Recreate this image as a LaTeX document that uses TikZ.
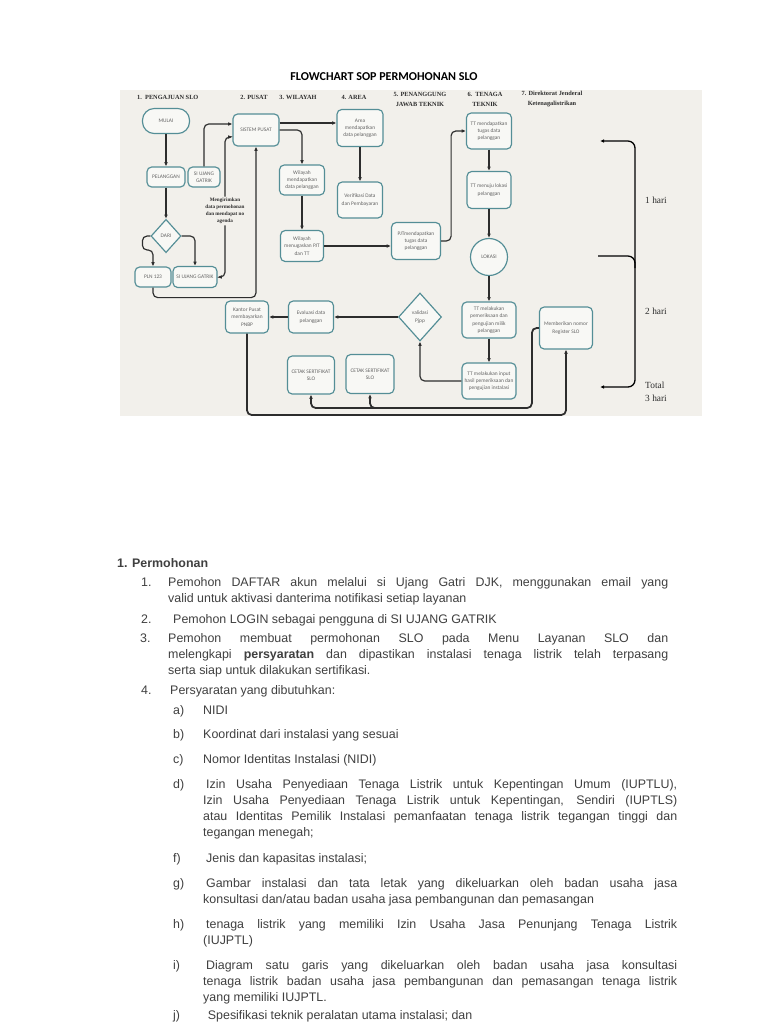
\documentclass[tikz,border=0pt]{standalone}
\usepackage{fontspec}
\setmainfont{Liberation Sans}
\newfontfamily\calfont{Carlito}
\newfontfamily\timesfont{Liberation Serif}
\usetikzlibrary{arrows.meta,shapes.geometric,calc}
\definecolor{paper}{RGB}{242,240,235}
\definecolor{boxteal}{RGB}{84,142,150}
\definecolor{ink}{RGB}{45,45,45}
\definecolor{boxtext}{RGB}{100,100,100}
\definecolor{bodytext}{RGB}{64,64,64}

\begin{document}
\begin{tikzpicture}[x=0.03cm,y=-0.03cm,
    >={Latex[length=3.6pt,width=3.2pt]},
    flowbox/.style={draw=boxteal,line width=1pt,fill=paper!50!white,rounded corners=4pt,
      font=\calfont\fontsize{4.6}{6.2}\selectfont,text=boxtext,align=center,inner sep=1pt},
    diam/.style={flowbox,diamond,rounded corners=0pt,inner sep=0pt},
    arr/.style={draw=ink,line width=1pt,->,rounded corners=4pt},
    arrthick/.style={arr,line width=1.5pt},
    colhead/.style={font=\timesfont\bfseries\fontsize{5.4}{8.5}\selectfont,text=ink,align=center,inner sep=0pt},
    dayl/.style={font=\timesfont\fontsize{8}{11}\selectfont,text=ink,align=left,inner sep=0pt,anchor=west},
    numl/.style={font=\fontsize{10.6}{13.9}\selectfont,text=bodytext,anchor=base west,inner sep=0pt},
    iteml/.style={numl,align=justify},
  ]
  \useasboundingbox (0,0) rectangle (768,1024);
  \fill[white] (0,0) rectangle (768,1024);
  \fill[paper] (120,90) rectangle (702,416);

  \node[font=\calfont\bfseries\fontsize{10.3}{12}\selectfont,text=black] (title) at (384,77) {FLOWCHART SOP PERMOHONAN SLO};

  \node[colhead,anchor=west] (h1) at (137,97) {1.\enspace PENGAJUAN SLO};
  \node[colhead] (h2) at (254,97) {2. PUSAT};
  \node[colhead] (h3) at (298,97) {3. WILAYAH};
  \node[colhead] (h4) at (354,97) {4. AREA};
  \node[colhead] (h5) at (420,99) {5. PENANGGUNG\\JAWAB TEKNIK};
  \node[colhead] (h6) at (485,99) {6.\enspace TENAGA\\TEKNIK};
  \node[colhead] (h7) at (552,99) {7. Direktorat Jenderal\\Ketenagalistrikan};

  \node[flowbox,rounded corners=10pt,minimum width=1.41cm,minimum height=0.75cm] (mulai) at (166,121) {MULAI};
  \node[flowbox,minimum width=1.14cm,minimum height=0.6cm] (plg) at (166,177) {PELANGGAN};
  \node[flowbox,minimum width=0.96cm,minimum height=0.6cm] (sig1) at (204,177) {SI UJANG\\GATRIK};
  \node[diam,minimum width=0.9cm,minimum height=1.0cm] (dari) at (166,236) {DARI};
  \node[flowbox,minimum width=1.08cm,minimum height=0.6cm] (pln) at (153,277) {PLN 123};
  \node[flowbox,minimum width=1.32cm,minimum height=0.63cm] (sig2) at (195,277) {SI UJANG GATRIK};
  \node[font=\timesfont\bfseries\fontsize{4.4}{6}\selectfont,text=ink,align=center,inner sep=1pt] (ann) at (225,211)
    {Mengirimkan\\data permohonan\\dan mendapat no\\agenda};

  \node[flowbox,minimum width=1.38cm,minimum height=0.96cm] (sp) at (256,130) {SISTEM PUSAT};
  \node[flowbox,minimum width=1.38cm,minimum height=1.11cm] (area) at (360,128) {Area\\mendapatkan\\data pelanggan};
  \node[flowbox,minimum width=1.35cm,minimum height=0.9cm] (wil1) at (302,180) {Wilayah\\mendapatkan\\data pelanggan};
  \node[flowbox,minimum width=1.35cm,minimum height=1.08cm] (verif) at (360,200) {Verifikasi Data\\dan Pembayaran};
  \node[flowbox,minimum width=1.29cm,minimum height=0.93cm] (wil2) at (302,246) {Wilayah\\menugaskan PJT\\dan TT};
  \node[flowbox,minimum width=1.47cm,minimum height=1.11cm] (pjt) at (416,241) {PJTmendapatkan\\tugas data\\pelanggan};
  \node[flowbox,minimum width=1.35cm,minimum height=1.08cm] (tt1) at (489,131) {TT mendapatkan\\tugas data\\pelanggan};
  \node[flowbox,minimum width=1.32cm,minimum height=1.11cm] (tt2) at (489,190) {TT menuju lokasi\\pelanggan};
  \node[flowbox,circle,minimum size=1.11cm] (lok) at (489,257) {LOKASI};
  \node[flowbox,minimum width=1.62cm,minimum height=1.08cm] (tt3) at (489,320) {TT melakukan\\pemeriksaan dan\\pengujian milik\\pelanggan};
  \node[flowbox,minimum width=1.62cm,minimum height=1.08cm] (tt4) at (489,381) {TT melakukan input\\hasil pemeriksaan dan\\pengujian instalasi};
  \node[flowbox,minimum width=1.59cm,minimum height=1.26cm] (reg) at (566,328) {Memberikan nomor\\Register SLO};
  \node[diam,minimum width=1.29cm,minimum height=1.44cm] (val) at (420,317) {validasi\\Pjpp};
  \node[flowbox,minimum width=1.35cm,minimum height=0.96cm] (eval) at (311,317) {Evaluasi data\\pelanggan};
  \node[flowbox,minimum width=1.29cm,minimum height=0.96cm] (kp) at (247,317) {Kantor Pusat\\membayarkan\\PNBP};
  \node[flowbox,minimum width=1.41cm,minimum height=1.14cm] (ctk1) at (311,375) {CETAK SERTIFIKAT\\SLO};
  \node[flowbox,minimum width=1.44cm,minimum height=1.17cm] (ctk2) at (370,374) {CETAK SERTIFIKAT\\SLO};

  \coordinate (spW1) at ([yshift=0.18cm]sp.west);
  \coordinate (spW2) at ([yshift=-0.21cm]sp.west);
  \coordinate (spE1) at ([yshift=0.21cm]sp.east);
  \coordinate (bot) at (0,415);
  \coordinate (mid) at (0,408);

  \draw[arr] (mulai) -- (plg);
  \draw[arr] (plg) -- (dari);
  \draw[arr] (dari.west) -| ++(-8,14) -| (pln.north);
  \draw[arr] (dari.east) -| (sig2.north);
  \draw[arr] (sig1.north) |- (spW1);
  \draw[arr] (ann.north) |- (spW2);
  \draw[arr] (ann.south) |- (sig2.east);
  \draw[arr] (pln.south) -- ++(0,10) -| (sp.south);
  \draw[arr] (spE1) -- (spE1 -| area.west);
  \draw[arr] (sp.east) -| (wil1.north);
  \draw[arr] (wil1) -- (wil2);
  \draw[arr] (area) -- (verif);
  \draw[arr] (wil2.east) -- (wil2.east -| pjt.west);
  \draw[arr] (pjt.east) -- ++(10,0) |- (tt1.west);
  \draw[arr] (tt1) -- (tt2);
  \draw[arr] (tt2) -- (lok);
  \draw[arr] (lok) -- (tt3);
  \draw[arr] (tt3) -- (tt4);
  \draw[arr] (tt4.west) -| (val.south);
  \draw[arr] (val) -- (eval);
  \draw[arr] (eval) -- (kp);
  \draw[arrthick] (kp.south) |- (reg.south |- bot) -- (reg.south);
  \draw[arrthick] (reg.west) -- ++(-7,0) |- (ctk1.south |- mid) -- (ctk1.south);
  \draw[arrthick] ($(ctk2.south |- mid)+(12,0)$) -| (ctk2.south);

  \coordinate (brT) at (600,141);
  \coordinate (brTR) at (635,141);
  \coordinate (brBR) at (635,387);
  \coordinate (brB) at (600,387);
  \coordinate (brM) at (598,256);
  \coordinate (brMR) at (635,268);
  \draw[arr,draw=black,line width=1.1pt,<->,rounded corners=6pt] (brT) -- (brTR) -- (brBR) -- (brB);
  \draw[arr,draw=black,line width=1.1pt,-,rounded corners=6pt] (brM) -| (brMR);
  \node[dayl] (d1) at (645,200) {1 hari};
  \node[dayl] (d2) at (645,311) {2 hari};
  \node[dayl] (d3) at (645,392) {Total\\3 hari};

  \node[numl,font=\bfseries\fontsize{10.6}{13.9}\selectfont] (p0) at (117,567) {1. Permohonan};
  \node[numl] (n1) at (141,586) {1.};
  \node[iteml,text width=15cm] (t1) at (168,586) {Pemohon DAFTAR akun melalui si Ujang Gatri DJK, menggunakan email yang\linebreak valid untuk aktivasi danterima notifikasi setiap layanan};
  \node[numl] (n2) at (141,623) {2.};
  \node[numl] (t2) at (173,623) {Pemohon LOGIN sebagai pengguna di SI UJANG GATRIK};
  \node[numl] (n3) at (140,642) {3.};
  \node[iteml,text width=15cm] (t3) at (168,642) {Pemohon membuat permohonan SLO pada Menu Layanan SLO dan\linebreak melengkapi \textbf{persyaratan} dan dipastikan instalasi tenaga listrik telah terpasang\linebreak serta siap untuk dilakukan sertifikasi.};
  \node[numl] (n4) at (141,694) {4.};
  \node[numl] (t4) at (170,694) {Persyaratan yang dibutuhkan:};

  \node[numl] (la) at (173,714) {a)};
  \node[numl] (ta) at (203,714) {NIDI};
  \node[numl] (lb) at (173,738) {b)};
  \node[numl] (tb) at (203,738) {Koordinat dari instalasi yang sesuai};
  \node[numl] (lc) at (173,763) {c)};
  \node[numl] (tc) at (203,763) {Nomor Identitas Instalasi (NIDI)};
  \node[numl] (ld) at (173,788) {d)};
  \node[iteml,text width=14.22cm] (td) at (203,788) {\hspace{2.5pt}Izin Usaha Penyediaan Tenaga Listrik untuk Kepentingan Umum (IUPTLU),\linebreak Izin Usaha Penyediaan Tenaga Listrik untuk Kepentingan, Sendiri (IUPTLS)\linebreak atau Identitas Pemilik Instalasi pemanfaatan tenaga listrik tegangan tinggi dan\linebreak tegangan menegah;};
  \node[numl] (lf) at (173,862) {f)};
  \node[numl] (tf) at (203,862) {\hspace{2.5pt}Jenis dan kapasitas instalasi;};
  \node[numl] (lg) at (173,887) {g)};
  \node[iteml,text width=14.22cm] (tg) at (203,887) {\hspace{2.5pt}Gambar instalasi dan tata letak yang dikeluarkan oleh badan usaha jasa\linebreak konsultasi dan/atau badan usaha jasa pembangunan dan pemasangan};
  \node[numl] (lh) at (173,928) {h)};
  \node[iteml,text width=14.22cm] (th) at (203,928) {\hspace{2.5pt}tenaga listrik yang memiliki Izin Usaha Jasa Penunjang Tenaga Listrik\linebreak (IUJPTL)};
  \node[numl] (li) at (173,969) {i)};
  \node[iteml,text width=14.22cm] (ti) at (203,969) {\hspace{2.5pt}Diagram satu garis yang dikeluarkan oleh badan usaha jasa konsultasi\linebreak tenaga listrik badan usaha jasa pembangunan dan pemasangan tenaga listrik\linebreak yang memiliki IUJPTL.};
  \node[numl] (lj) at (173,1019) {j)};
  \node[numl] (tj) at (203,1019) {\hspace{4pt}Spesifikasi teknik peralatan utama instalasi; dan};
\end{tikzpicture}
\end{document}
